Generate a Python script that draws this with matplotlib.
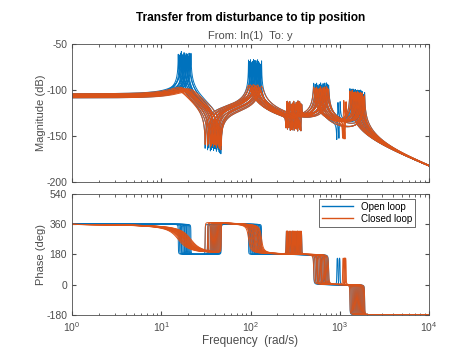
import numpy as np
import matplotlib
matplotlib.use("Agg")
import matplotlib.pyplot as plt

plt.rcParams['font.family'] = ['Liberation Sans', 'DejaVu Sans']
plt.rcParams['axes.unicode_minus'] = False

# ---------------- data (read/estimated from the reference) ----------------
# Uncertain plant samples: modal frequencies in rad/s
dc_gain_db = [-106, -107, -105, -108, -106.5, -104.5, -107.5, -105.5,
              -106, -108.5, -105, -107, -104, -106.5, -108, -105.5]
pole1 = [15.5, 16.0, 16.5, 17.0, 17.5, 18.0, 18.5, 19.0,
         19.5, 20.0, 20.5, 21.0, 16.8, 18.2, 19.2, 21.5]
zero1 = [31.0, 33.0, 34.0, 35.5, 36.5, 37.5, 38.5, 39.5,
         40.5, 41.5, 42.5, 43.5, 44.5, 45.5, 46.5, 47.0]
pole2 = [95, 98, 100, 103, 105, 108, 110, 112,
         115, 118, 120, 123, 125, 128, 130, 133]
cluster = [255, 265, 275, 285, 295, 305, 315, 325,
           335, 345, 355, 365, 375, 260, 300, 340]
pole3 = [510, 530, 550, 570, 590, 610, 630, 650,
         670, 690, 710, 730, 750, 560, 620, 680]
blip_open = [np.nan, np.nan, np.nan, 955, np.nan, np.nan, np.nan, np.nan,
             np.nan, 1010, np.nan, np.nan, np.nan, np.nan, np.nan, np.nan]
blip_closed = [np.nan, np.nan, 1110, np.nan, np.nan, np.nan, np.nan, 1180,
               np.nan, np.nan, np.nan, np.nan, 1150, np.nan, np.nan, np.nan]
pole4 = [1300, 1340, 1380, 1420, 1460, 1500, 1540, 1580,
         1620, 1660, 1700, 1740, 1780, 1820, 1860, 1900]
mag_corner1 = 400        # real +/- zero pair (magnitude only, no phase)
tail_db = -183.0         # high-frequency mass-line level at 1e4 rad/s

# damping ratios: open loop / closed loop
zeta_open = {'p1': 0.0022, 'z1': 0.0018, 'p2': 0.0015, 'cl': 0.004,
             'p3': 0.005, 'p4': 0.003, 'bl': 0.003}
zeta_closed = {'p1': 0.2, 'z1': 0.003, 'p2': 0.035, 'cl': 0.004,
               'p3': 0.008, 'p4': 0.004, 'bl': 0.003}
cluster_sep = 0.02

series_names = ['Open loop', 'Closed loop']
colors = ['#0072BD', '#D95319']

# ---------------- response computation ----------------
w = np.logspace(0, 4, 20000)


def second_order(wn, zeta):
    r = w / wn
    return (1 - r ** 2) + 1j * 2 * zeta * r


def response(i, z, blip):
    P = pole1[i] * pole2[i] * pole3[i] * pole4[i]
    a2 = 10 ** (np.log10(P / (zero1[i] * mag_corner1))
                + (dc_gain_db[i] - 160 - tail_db) / 40)
    nums = [second_order(zero1[i], z['z1']),
            second_order(cluster[i] * (1 - cluster_sep), z['cl'])]
    dens = [second_order(pole1[i], z['p1']), second_order(pole2[i], z['p2']),
            second_order(cluster[i], z['cl']),
            second_order(pole3[i], z['p3']), second_order(pole4[i], z['p4'])]
    if not np.isnan(blip[i]):
        nums.append(second_order(blip[i] * 0.97, z['bl']))
        dens.append(second_order(blip[i], z['bl']))
    mag = dc_gain_db[i] * np.ones_like(w)
    ph = 360.0 * np.ones_like(w)
    for f in nums:
        mag += 20 * np.log10(np.abs(f))
        ph += np.degrees(np.angle(f))
    for f in dens:
        mag -= 20 * np.log10(np.abs(f))
        ph -= np.degrees(np.angle(f))
    for a in (mag_corner1, a2):
        mag += 20 * np.log10(1 + (w / a) ** 2)
    return mag, ph


# ---------------- figure ----------------
fig = plt.figure(figsize=(4.74, 3.55), dpi=100)
ax1 = fig.add_axes([0.152, 0.487, 0.753, 0.389])
ax2 = fig.add_axes([0.152, 0.1127, 0.753, 0.341])

gray = '#4d4d4d'
handles = []
for k, (zz, blip) in enumerate([(zeta_open, blip_open), (zeta_closed, blip_closed)]):
    for i in range(len(pole1)):
        m, p = response(i, zz, blip)
        ax1.plot(w, m, color=colors[k], lw=0.7)
        l, = ax2.plot(w, p, color=colors[k], lw=0.7)
    handles.append(l)

for ax in (ax1, ax2):
    ax.set_xscale('log')
    ax.set_xlim(1, 1e4)
    ax.tick_params(which='both', direction='in', top=True, right=True,
                   colors=gray, labelsize=7.5, length=3)
    ax.tick_params(which='minor', length=1.8)
    for s in ax.spines.values():
        s.set_color(gray)
        s.set_linewidth(0.6)

ax1.set_ylim(-200, -50)
ax1.set_yticks([-200, -150, -100, -50])
ax1.tick_params(labelbottom=False)
ax1.set_ylabel('Magnitude (dB)', color=gray, fontsize=8, labelpad=0)

ax2.set_ylim(-180, 540)
ax2.set_yticks([-180, 0, 180, 360, 540])
ax2.set_ylabel('Phase (deg)', color=gray, fontsize=8, labelpad=0)
ax2.set_xlabel('Frequency  (rad/s)', color=gray, fontsize=8.5, labelpad=1)
ax2.set_xticks([1, 10, 100, 1000, 10000])

fig.align_ylabels([ax1, ax2])

leg = ax2.legend(handles, series_names, loc='upper right', fontsize=7,
                 frameon=True, fancybox=False, borderpad=0.3,
                 handlelength=3.2, labelspacing=0.2,
                 bbox_to_anchor=(0.975, 1.0))
leg.get_frame().set_edgecolor('#262626')
leg.get_frame().set_linewidth(0.6)
for lh in leg.get_lines():
    lh.set_linewidth(1.0)

fig.text(0.528, 0.948, 'Transfer from disturbance to tip position',
         ha='center', va='center', fontsize=8.6, fontweight='bold', color='black')
fig.text(0.528, 0.899, 'From: In(1)  To: y', ha='center', va='center',
         fontsize=8, color=gray)

fig.savefig('out.png', dpi=100)
